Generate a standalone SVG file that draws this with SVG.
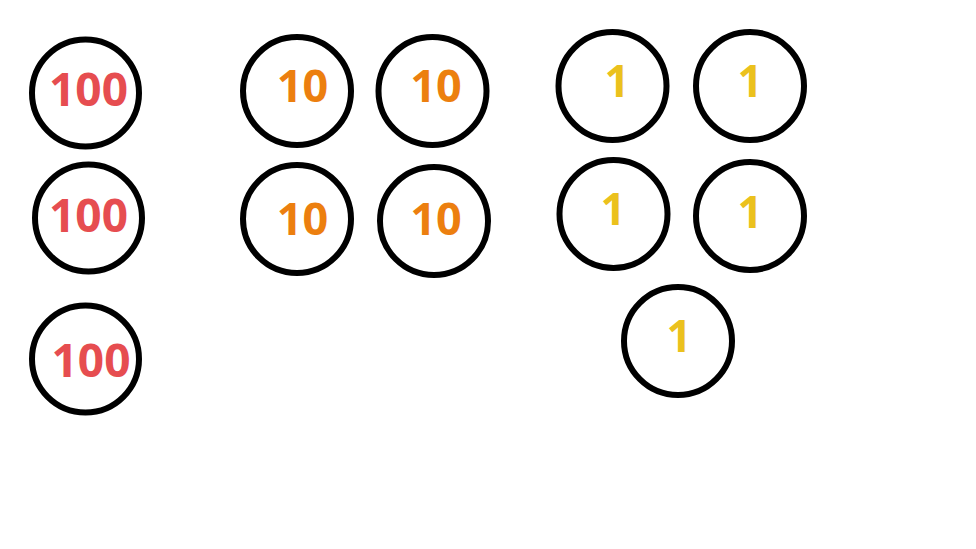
<svg xmlns="http://www.w3.org/2000/svg" width="976" height="549" viewBox="0 0 976 549">
<style>
  .c { fill: #ffffff; stroke: #000000; stroke-width: 6; }
  .t { font-family: "Open Sans", "Noto Sans", "Liberation Sans", sans-serif; font-weight: 700; text-anchor: middle; }
  .h { fill: #E64D50; font-size: 46px; }
  .te { fill: #EC7F0F; font-size: 45px; }
  .o { fill: #EBC11D; font-size: 44px; }
</style>
<rect width="976" height="549" fill="#ffffff"/>
<g id="connectors"></g>
<g id="hundred-1"><circle class="c" cx="85.5" cy="93" r="53.5"/><text class="t h" x="88.5" y="106">100</text></g>
<g id="hundred-2"><circle class="c" cx="88.5" cy="218" r="53.5"/><text class="t h" x="88.5" y="232">100</text></g>
<g id="hundred-3"><circle class="c" cx="85.5" cy="359" r="53.5"/><text class="t h" x="91" y="377">100</text></g>
<g id="ten-1"><circle class="c" cx="297" cy="91" r="54"/><text class="t te" x="302.5" y="102">10</text></g>
<g id="ten-2"><circle class="c" cx="432.5" cy="91" r="54"/><text class="t te" x="436" y="102">10</text></g>
<g id="ten-3"><circle class="c" cx="297" cy="219" r="54"/><text class="t te" x="302.5" y="235">10</text></g>
<g id="ten-4"><circle class="c" cx="434" cy="221" r="54"/><text class="t te" x="436" y="235">10</text></g>
<g id="one-1"><circle class="c" cx="612.5" cy="86" r="54"/><text class="t o" x="617" y="97">1</text></g>
<g id="one-2"><circle class="c" cx="750" cy="86" r="54"/><text class="t o" x="750" y="97">1</text></g>
<g id="one-3"><circle class="c" cx="613.5" cy="214" r="54"/><text class="t o" x="613" y="225">1</text></g>
<g id="one-4"><circle class="c" cx="750" cy="216" r="54"/><text class="t o" x="750" y="228">1</text></g>
<g id="one-5"><circle class="c" cx="678" cy="341" r="54"/><text class="t o" x="679" y="352">1</text></g>
</svg>
